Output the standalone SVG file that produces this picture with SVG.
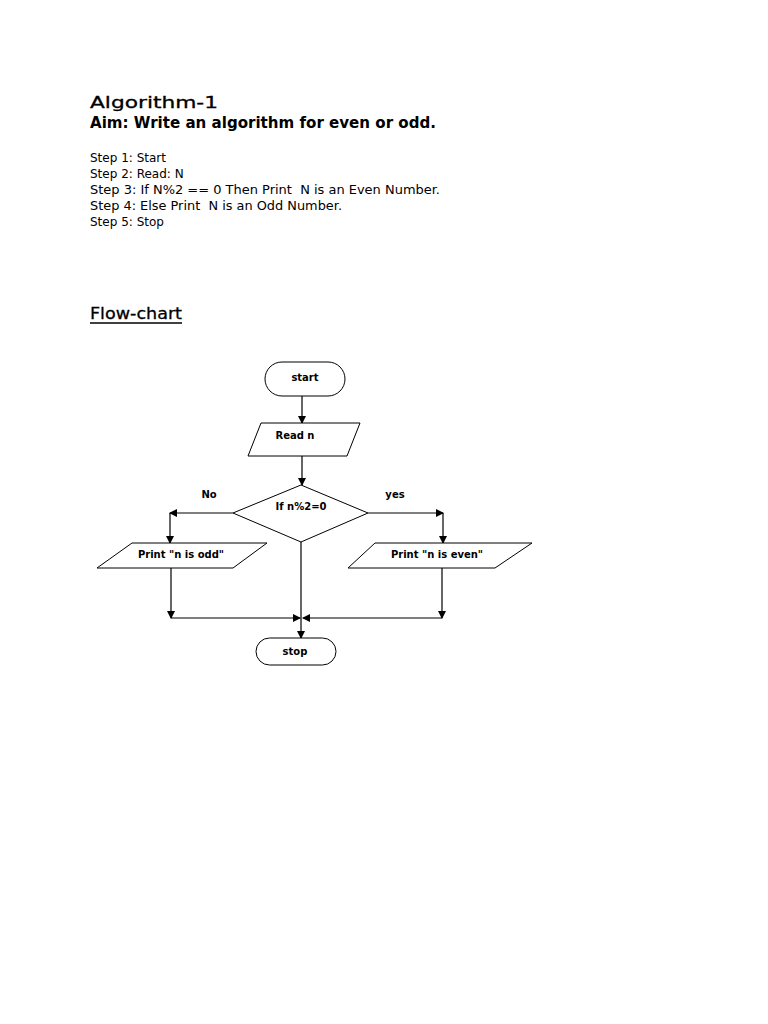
<svg xmlns="http://www.w3.org/2000/svg" width="768" height="1024" viewBox="0 0 768 1024">
<defs>
<marker id="a" markerWidth="8" markerHeight="8" refX="7" refY="4" orient="auto" markerUnits="userSpaceOnUse"><path d="M0,0 L8,4 L0,8 z" fill="#000"/></marker>
<style>
text{font-family:"DejaVu Sans",Verdana,sans-serif;fill:#000;white-space:pre}
.h{font-size:16px}
.hb{font-size:16px;font-weight:bold}
.s{font-size:12px}
.n{font-size:10px;font-weight:bold;text-anchor:middle}
.shape{fill:#fff;stroke:#000;stroke-width:1}
.c{fill:none;stroke:#000;stroke-width:1.2}
</style>
</defs>
<rect width="768" height="1024" fill="#fff"/>
<text class="h" x="90" y="108" textLength="128" lengthAdjust="spacingAndGlyphs" stroke="#000" stroke-width="0.3">Algorithm-1</text>
<text class="hb" x="90" y="128" textLength="346" lengthAdjust="spacingAndGlyphs">Aim: Write an algorithm for even or odd.</text>
<text class="s" x="90" y="162">Step 1: Start</text>
<text class="s" x="90" y="178">Step 2: Read: N</text>
<text class="s" x="90" y="194" textLength="350" lengthAdjust="spacingAndGlyphs">Step 3: If N%2 == 0 Then Print  N is an Even Number.</text>
<text class="s" x="90" y="210" textLength="252" lengthAdjust="spacingAndGlyphs">Step 4: Else Print  N is an Odd Number.</text>
<text class="s" x="90" y="226">Step 5: Stop</text>
<text class="h" x="90" y="319" textLength="92" lengthAdjust="spacingAndGlyphs" stroke="#000" stroke-width="0.3">Flow-chart</text>
<line x1="90" y1="323" x2="182" y2="323" stroke="#000" stroke-width="1.3"/>
<g id="connectors">
<line class="c" x1="302" y1="396" x2="302" y2="423" marker-end="url(#a)"/>
<line class="c" x1="302" y1="456" x2="302" y2="485" marker-end="url(#a)"/>
<line class="c" x1="233" y1="513" x2="170" y2="513" marker-end="url(#a)"/>
<line class="c" x1="170" y1="513" x2="170" y2="543" marker-end="url(#a)"/>
<line class="c" x1="368" y1="513" x2="443" y2="513" marker-end="url(#a)"/>
<line class="c" x1="443" y1="513" x2="443" y2="543" marker-end="url(#a)"/>
<line class="c" x1="301" y1="542" x2="301" y2="638" marker-end="url(#a)"/>
<line class="c" x1="171" y1="568" x2="171" y2="618" marker-end="url(#a)"/>
<line class="c" x1="171" y1="618" x2="300" y2="618" marker-end="url(#a)"/>
<line class="c" x1="442" y1="568" x2="442" y2="618" marker-end="url(#a)"/>
<line class="c" x1="442" y1="618" x2="303" y2="618" marker-end="url(#a)"/>
<text class="n" x="209" y="498">No</text>
<text class="n" x="395" y="498">yes</text>
</g>
<g id="start"><rect class="shape" x="265" y="362" width="80" height="34" rx="17"/><text class="n" x="305" y="381">start</text></g>
<g id="read"><path class="shape" d="M261,423 L360,423 L347,456 L248,456 z"/><text class="n" x="295" y="439">Read n</text></g>
<g id="decision"><path class="shape" d="M301,485 L368,513 L301,542 L233,513 z"/><text class="n" x="301" y="510">If n%2=0</text></g>
<g id="odd"><path class="shape" d="M132,543 L267,543 L233,568 L97,568 z"/><text class="n" x="181" y="558">Print "n is odd"</text></g>
<g id="even"><path class="shape" d="M375,543 L532,543 L495,568 L348,568 z"/><text class="n" x="437" y="558">Print "n is even"</text></g>
<g id="stop"><rect class="shape" x="256" y="638" width="80" height="27" rx="13.5"/><text class="n" x="295" y="655">stop</text></g>
</svg>
